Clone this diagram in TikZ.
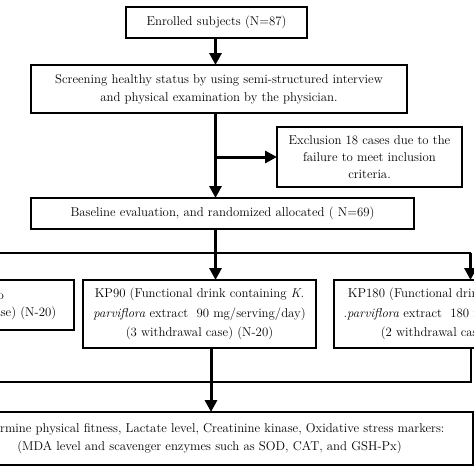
\documentclass[tikz,border=0pt]{standalone}
\usetikzlibrary{arrows.meta,calc}
\newcommand\fs{\fontsize{12.8}{17.8}\selectfont}
\begin{document}
\begin{tikzpicture}[x=1pt,y=-1pt,
  box/.style={draw,line width=2pt,align=center,inner sep=0pt,outer sep=0pt,font=\fs},
  conn/.style={line width=3pt,-{Triangle[length=12pt,width=12pt]}},
  link/.style={line width=2pt}]
\useasboundingbox (0,0) rectangle (474,474);
\clip (0,0) rectangle (474,474);
\fill[white] (0,0) rectangle (474,474);
% columns
\coordinate (c1) at (215.5,0);
\coordinate (c2) at (211,0);
\coordinate (cr) at (470.5,0);
\coordinate (cl) at (-17.5,0);
\coordinate (bar1) at (0,253);
\coordinate (bar2) at (0,382);
% boxes
\node[box,minimum width=181pt,minimum height=31pt] (b1) at (216.5,22.5) {Enrolled subjects (N=87)};
\node[box,minimum width=376pt,minimum height=48pt] (b2) at (219,89)
  {Screening healthy status by using semi-structured interview\\and physical examination by the physician.};
\node[box,minimum width=185pt,minimum height=60pt] (b3) at (369.5,157)
  {Exclusion 18 cases due to the\\[-1pt]failure to meet inclusion\\[-1pt]criteria.};
\node[box,minimum width=383pt,minimum height=31pt] (b4) at (222.5,213.5)
  {Baseline evaluation, and randomized allocated ( N=69)};
\node[box,minimum width=183pt,minimum height=50pt] (p0) at (-17.5,305)
  {Placebo\\[-1pt](3 withdrawal case) (N-20)};
\node[box,minimum width=233pt,minimum height=68pt] (k90) at (199.5,314)
  {KP90 (Functional drink containing \textit{K.}\\[2pt]\textit{parviflora} extract\ \ 90 mg/serving/day)\\[2pt](3 withdrawal case) (N-20)};
\node[box,minimum width=241pt,minimum height=68pt] (k180) at (454.5,314)
  {KP180 (Functional drink containing \textit{K}\\[2pt]\textit{.parviflora} extract\ \ 180 mg/serving/day)\\[2pt](2 withdrawal case) (N-20)};
\node[box,minimum width=527pt,minimum height=53pt] (b5) at (209.5,438.5)
  {Determine physical fitness, Lactate level, Creatinine kinase, Oxidative stress markers:\\[1pt](MDA level and scavenger enzymes such as SOD, CAT, and GSH-Px)};
% connectors
\draw[conn] (b1.south -| c1) -- (b2.north -| c1);
\draw[conn] (b2.south -| c1) -- (b4.north -| c1);
\draw[conn] (c1 |- b3.west) -- (b3.west);
\draw[line width=3pt] (b4.south -| c1) -- (c1 |- bar1);
\draw[link] (cl |- bar1) -- (cr |- bar1);
\draw[conn] (cl |- bar1) -- (p0.north);
\draw[conn] (c1 |- bar1) -- (k90.north -| c1);
\draw[conn] (cr |- bar1) -- (k180.north -| cr);
\draw[link] (p0.south) -- (cl |- bar2) -- (cr |- bar2) -- (k180.south -| cr);
\draw[conn] (k90.south -| c2) -- (b5.north -| c2);
\end{tikzpicture}
\end{document}
